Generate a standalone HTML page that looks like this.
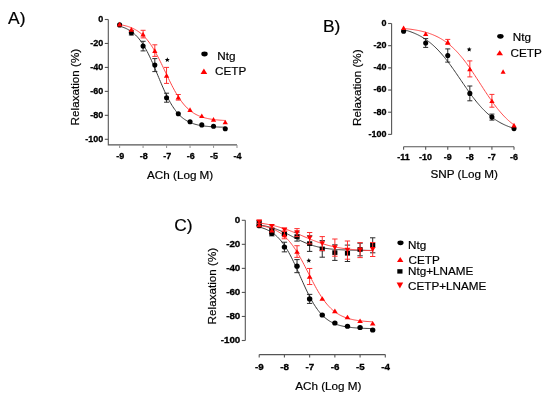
<!DOCTYPE html>
<html><head><meta charset="utf-8"><style>
html,body{margin:0;padding:0;background:#fff;width:550px;height:398px;overflow:hidden}
svg{display:block;will-change:transform}
text{font-family:"Liberation Sans", sans-serif}
</style></head><body>
<svg width="550" height="398" viewBox="0 0 550 398" font-family='"Liberation Sans", sans-serif' fill="#000">
<rect width="550" height="398" fill="#fff"/>
<path d="M108.30 19.50 V144.90 H237.00" stroke="#555555" stroke-width="1.1" fill="none"/>
<path d="M104.80 19.50 H108.30" stroke="#555555" stroke-width="1.1"/>
<text transform="translate(103.30 21.80) scale(1.000 1.100)" font-size="9.00" text-anchor="end" font-weight="bold" stroke="#000" stroke-width="0.3">0</text>
<path d="M104.80 43.46 H108.30" stroke="#555555" stroke-width="1.1"/>
<text transform="translate(103.30 45.76) scale(1.000 1.100)" font-size="9.00" text-anchor="end" font-weight="bold" stroke="#000" stroke-width="0.3">-20</text>
<path d="M104.80 67.42 H108.30" stroke="#555555" stroke-width="1.1"/>
<text transform="translate(103.30 69.72) scale(1.000 1.100)" font-size="9.00" text-anchor="end" font-weight="bold" stroke="#000" stroke-width="0.3">-40</text>
<path d="M104.80 91.38 H108.30" stroke="#555555" stroke-width="1.1"/>
<text transform="translate(103.30 93.68) scale(1.000 1.100)" font-size="9.00" text-anchor="end" font-weight="bold" stroke="#000" stroke-width="0.3">-60</text>
<path d="M104.80 115.34 H108.30" stroke="#555555" stroke-width="1.1"/>
<text transform="translate(103.30 117.64) scale(1.000 1.100)" font-size="9.00" text-anchor="end" font-weight="bold" stroke="#000" stroke-width="0.3">-80</text>
<path d="M104.80 139.30 H108.30" stroke="#555555" stroke-width="1.1"/>
<text transform="translate(103.30 141.60) scale(1.000 1.100)" font-size="9.00" text-anchor="end" font-weight="bold" stroke="#000" stroke-width="0.3">-100</text>
<path d="M119.60 144.90 V147.90" stroke="#9a9a9a" stroke-width="1.1"/>
<text transform="translate(120.20 158.90) scale(1.000 1.100)" font-size="9.00" text-anchor="middle" font-weight="bold" stroke="#000" stroke-width="0.3">-9</text>
<path d="M143.08 144.90 V147.90" stroke="#9a9a9a" stroke-width="1.1"/>
<text transform="translate(143.68 158.90) scale(1.000 1.100)" font-size="9.00" text-anchor="middle" font-weight="bold" stroke="#000" stroke-width="0.3">-8</text>
<path d="M166.56 144.90 V147.90" stroke="#9a9a9a" stroke-width="1.1"/>
<text transform="translate(167.16 158.90) scale(1.000 1.100)" font-size="9.00" text-anchor="middle" font-weight="bold" stroke="#000" stroke-width="0.3">-7</text>
<path d="M190.04 144.90 V147.90" stroke="#9a9a9a" stroke-width="1.1"/>
<text transform="translate(190.64 158.90) scale(1.000 1.100)" font-size="9.00" text-anchor="middle" font-weight="bold" stroke="#000" stroke-width="0.3">-6</text>
<path d="M213.52 144.90 V147.90" stroke="#9a9a9a" stroke-width="1.1"/>
<text transform="translate(214.12 158.90) scale(1.000 1.100)" font-size="9.00" text-anchor="middle" font-weight="bold" stroke="#000" stroke-width="0.3">-5</text>
<path d="M237.00 144.90 V147.90" stroke="#9a9a9a" stroke-width="1.1"/>
<text transform="translate(237.60 158.90) scale(1.000 1.100)" font-size="9.00" text-anchor="middle" font-weight="bold" stroke="#000" stroke-width="0.3">-4</text>
<text x="147.00" y="178.60" font-size="11.70" text-anchor="start" font-weight="normal" stroke="#000" stroke-width="0.20" >ACh (Log M)</text>
<text transform="translate(78.80 125.40) rotate(-90)" font-size="11.70" stroke="#000" stroke-width="0.20">Relaxation (%)</text>
<text x="8.10" y="23.90" font-size="17.40" text-anchor="start" font-weight="normal" stroke="#000" stroke-width="0.20" >A)</text>
<path d="M119.60 26.23 L120.49 26.47 L121.38 26.73 L122.26 27.02 L123.15 27.32 L124.04 27.65 L124.93 28.01 L125.82 28.39 L126.70 28.81 L127.59 29.25 L128.48 29.73 L129.37 30.25 L130.25 30.80 L131.14 31.40 L132.03 32.03 L132.92 32.71 L133.81 33.44 L134.69 34.22 L135.58 35.05 L136.47 35.94 L137.36 36.88 L138.25 37.89 L139.13 38.95 L140.02 40.08 L140.91 41.27 L141.80 42.52 L142.69 43.85 L143.57 45.24 L144.46 46.70 L145.35 48.23 L146.24 49.82 L147.12 51.48 L148.01 53.20 L148.90 54.99 L149.79 56.83 L150.68 58.73 L151.56 60.68 L152.45 62.67 L153.34 64.71 L154.23 66.78 L155.12 68.88 L156.00 71.00 L156.89 73.13 L157.78 75.27 L158.67 77.42 L159.56 79.55 L160.44 81.67 L161.33 83.77 L162.22 85.84 L163.11 87.88 L163.99 89.88 L164.88 91.83 L165.77 93.74 L166.66 95.58 L167.55 97.37 L168.43 99.10 L169.32 100.77 L170.21 102.37 L171.10 103.90 L171.99 105.37 L172.87 106.76 L173.76 108.09 L174.65 109.35 L175.54 110.55 L176.43 111.68 L177.31 112.75 L178.20 113.76 L179.09 114.71 L179.98 115.60 L180.87 116.43 L181.75 117.22 L182.64 117.95 L183.53 118.63 L184.42 119.27 L185.30 119.87 L186.19 120.43 L187.08 120.95 L187.97 121.43 L188.86 121.88 L189.74 122.29 L190.63 122.68 L191.52 123.04 L192.41 123.37 L193.30 123.68 L194.18 123.97 L195.07 124.23 L195.96 124.48 L196.85 124.70 L197.74 124.91 L198.62 125.11 L199.51 125.29 L200.40 125.45 L201.29 125.60 L202.17 125.74 L203.06 125.88 L203.95 126.00 L204.84 126.11 L205.73 126.21 L206.61 126.30 L207.50 126.39 L208.39 126.47 L209.28 126.55 L210.17 126.61 L211.05 126.68 L211.94 126.74 L212.83 126.79 L213.72 126.84 L214.61 126.89 L215.49 126.93 L216.38 126.97 L217.27 127.00 L218.16 127.03 L219.04 127.07 L219.93 127.09 L220.82 127.12 L221.71 127.14 L222.60 127.16 L223.48 127.18 L224.37 127.20 L225.26 127.22" fill="none" stroke="#383838" stroke-width="1.00" stroke-linejoin="round"/>
<path d="M119.60 24.58 L120.49 24.73 L121.38 24.89 L122.26 25.06 L123.15 25.25 L124.04 25.44 L124.93 25.66 L125.82 25.88 L126.70 26.13 L127.59 26.39 L128.48 26.68 L129.37 26.98 L130.25 27.30 L131.14 27.65 L132.03 28.03 L132.92 28.42 L133.81 28.85 L134.69 29.31 L135.58 29.80 L136.47 30.32 L137.36 30.87 L138.25 31.46 L139.13 32.09 L140.02 32.76 L140.91 33.47 L141.80 34.23 L142.69 35.03 L143.57 35.87 L144.46 36.77 L145.35 37.71 L146.24 38.71 L147.12 39.76 L148.01 40.86 L148.90 42.02 L149.79 43.23 L150.68 44.50 L151.56 45.82 L152.45 47.20 L153.34 48.63 L154.23 50.11 L155.12 51.64 L156.00 53.23 L156.89 54.85 L157.78 56.52 L158.67 58.24 L159.56 59.98 L160.44 61.76 L161.33 63.57 L162.22 65.41 L163.11 67.26 L163.99 69.12 L164.88 70.99 L165.77 72.87 L166.66 74.74 L167.55 76.60 L168.43 78.45 L169.32 80.28 L170.21 82.09 L171.10 83.86 L171.99 85.61 L172.87 87.32 L173.76 88.99 L174.65 90.61 L175.54 92.19 L176.43 93.72 L177.31 95.20 L178.20 96.62 L179.09 97.99 L179.98 99.31 L180.87 100.58 L181.75 101.78 L182.64 102.94 L183.53 104.04 L184.42 105.08 L185.30 106.07 L186.19 107.02 L187.08 107.91 L187.97 108.75 L188.86 109.55 L189.74 110.30 L190.63 111.01 L191.52 111.67 L192.41 112.30 L193.30 112.89 L194.18 113.44 L195.07 113.96 L195.96 114.44 L196.85 114.90 L197.74 115.32 L198.62 115.72 L199.51 116.09 L200.40 116.44 L201.29 116.76 L202.17 117.06 L203.06 117.34 L203.95 117.61 L204.84 117.85 L205.73 118.08 L206.61 118.29 L207.50 118.49 L208.39 118.67 L209.28 118.84 L210.17 119.00 L211.05 119.15 L211.94 119.28 L212.83 119.41 L213.72 119.53 L214.61 119.64 L215.49 119.74 L216.38 119.84 L217.27 119.92 L218.16 120.00 L219.04 120.08 L219.93 120.15 L220.82 120.22 L221.71 120.28 L222.60 120.33 L223.48 120.38 L224.37 120.43 L225.26 120.48" fill="none" stroke="#ff4545" stroke-width="1.00" stroke-linejoin="round"/>
<path d="M131.34 30.40 V35.00 M128.84 30.40 H133.84 M128.84 35.00 H133.84" stroke="#2a2a2a" stroke-width="1.00" fill="none"/>
<path d="M143.08 41.30 V50.90 M140.58 41.30 H145.58 M140.58 50.90 H145.58" stroke="#2a2a2a" stroke-width="1.00" fill="none"/>
<path d="M154.82 58.60 V71.60 M152.32 58.60 H157.32 M152.32 71.60 H157.32" stroke="#2a2a2a" stroke-width="1.00" fill="none"/>
<path d="M166.56 93.20 V102.20 M164.06 93.20 H169.06 M164.06 102.20 H169.06" stroke="#2a2a2a" stroke-width="1.00" fill="none"/>
<ellipse cx="119.60" cy="24.90" rx="2.55" ry="2.55" fill="#000000"/>
<ellipse cx="131.34" cy="32.70" rx="2.55" ry="2.55" fill="#000000"/>
<ellipse cx="143.08" cy="46.10" rx="2.55" ry="2.55" fill="#000000"/>
<ellipse cx="154.82" cy="65.10" rx="2.55" ry="2.55" fill="#000000"/>
<ellipse cx="166.56" cy="97.70" rx="2.55" ry="2.55" fill="#000000"/>
<ellipse cx="178.30" cy="113.80" rx="2.55" ry="2.55" fill="#000000"/>
<ellipse cx="190.04" cy="121.70" rx="2.55" ry="2.55" fill="#000000"/>
<ellipse cx="201.78" cy="124.90" rx="2.55" ry="2.55" fill="#000000"/>
<ellipse cx="213.52" cy="126.20" rx="2.55" ry="2.55" fill="#000000"/>
<ellipse cx="225.26" cy="128.70" rx="2.55" ry="2.55" fill="#000000"/>
<path d="M143.08 30.30 V37.90 M140.58 30.30 H145.58 M140.58 37.90 H145.58" stroke="#ff3030" stroke-width="1.00" fill="none"/>
<path d="M154.82 44.80 V56.40 M152.32 44.80 H157.32 M152.32 56.40 H157.32" stroke="#ff3030" stroke-width="1.00" fill="none"/>
<path d="M166.56 67.40 V83.40 M164.06 67.40 H169.06 M164.06 83.40 H169.06" stroke="#ff3030" stroke-width="1.00" fill="none"/>
<path d="M178.30 94.50 V100.10 M175.80 94.50 H180.80 M175.80 100.10 H180.80" stroke="#ff3030" stroke-width="1.00" fill="none"/>
<polygon points="119.60,21.80 122.25,26.40 116.95,26.40" fill="#ff0000"/>
<polygon points="131.34,27.10 133.99,31.70 128.69,31.70" fill="#ff0000"/>
<polygon points="143.08,31.80 145.73,36.40 140.43,36.40" fill="#ff0000"/>
<polygon points="154.82,48.30 157.47,52.90 152.17,52.90" fill="#ff0000"/>
<polygon points="166.56,73.10 169.21,77.70 163.91,77.70" fill="#ff0000"/>
<polygon points="178.30,95.00 180.95,99.60 175.65,99.60" fill="#ff0000"/>
<polygon points="190.04,107.30 192.69,111.90 187.39,111.90" fill="#ff0000"/>
<polygon points="201.78,113.40 204.43,118.00 199.13,118.00" fill="#ff0000"/>
<polygon points="213.52,117.10 216.17,121.70 210.87,121.70" fill="#ff0000"/>
<polygon points="225.26,119.70 227.91,124.30 222.61,124.30" fill="#ff0000"/>
<polygon points="167.30,57.30 167.99,58.95 169.77,59.10 168.41,60.26 168.83,62.00 167.30,61.07 165.77,62.00 166.19,60.26 164.83,59.10 166.61,58.95" fill="#000000"/>
<ellipse cx="204.50" cy="54.00" rx="3.20" ry="2.40" fill="#000000"/>
<text x="217.20" y="59.70" font-size="11.70" text-anchor="start" font-weight="normal" stroke="#000" stroke-width="0.20" >Ntg</text>
<polygon points="203.90,68.60 207.20,74.00 200.60,74.00" fill="#ff0000"/>
<text x="215.00" y="74.70" font-size="11.70" text-anchor="start" font-weight="normal" stroke="#000" stroke-width="0.20" >CETP</text>
<path d="M391.60 23.50 V134.40" stroke="#555555" stroke-width="1.1" fill="none"/>
<path d="M403.60 146.70 H514.00" stroke="#555555" stroke-width="1.1" fill="none"/>
<path d="M388.10 23.50 H391.60" stroke="#555555" stroke-width="1.1"/>
<text transform="translate(386.60 25.80) scale(1.000 1.100)" font-size="9.00" text-anchor="end" font-weight="bold" stroke="#000" stroke-width="0.3">0</text>
<path d="M388.10 45.68 H391.60" stroke="#555555" stroke-width="1.1"/>
<text transform="translate(386.60 47.98) scale(1.000 1.100)" font-size="9.00" text-anchor="end" font-weight="bold" stroke="#000" stroke-width="0.3">-20</text>
<path d="M388.10 67.86 H391.60" stroke="#555555" stroke-width="1.1"/>
<text transform="translate(386.60 70.16) scale(1.000 1.100)" font-size="9.00" text-anchor="end" font-weight="bold" stroke="#000" stroke-width="0.3">-40</text>
<path d="M388.10 90.04 H391.60" stroke="#555555" stroke-width="1.1"/>
<text transform="translate(386.60 92.34) scale(1.000 1.100)" font-size="9.00" text-anchor="end" font-weight="bold" stroke="#000" stroke-width="0.3">-60</text>
<path d="M388.10 112.22 H391.60" stroke="#555555" stroke-width="1.1"/>
<text transform="translate(386.60 114.52) scale(1.000 1.100)" font-size="9.00" text-anchor="end" font-weight="bold" stroke="#000" stroke-width="0.3">-80</text>
<path d="M388.10 134.40 H391.60" stroke="#555555" stroke-width="1.1"/>
<text transform="translate(386.60 136.70) scale(1.000 1.100)" font-size="9.00" text-anchor="end" font-weight="bold" stroke="#000" stroke-width="0.3">-100</text>
<path d="M403.60 146.70 V149.70" stroke="#555555" stroke-width="1.1"/>
<text transform="translate(403.50 160.20) scale(1.000 1.100)" font-size="9.00" text-anchor="middle" font-weight="bold" stroke="#000" stroke-width="0.3">-11</text>
<path d="M425.68 146.70 V149.70" stroke="#555555" stroke-width="1.1"/>
<text transform="translate(425.58 160.20) scale(1.000 1.100)" font-size="9.00" text-anchor="middle" font-weight="bold" stroke="#000" stroke-width="0.3">-10</text>
<path d="M447.76 146.70 V149.70" stroke="#555555" stroke-width="1.1"/>
<text transform="translate(447.66 160.20) scale(1.000 1.100)" font-size="9.00" text-anchor="middle" font-weight="bold" stroke="#000" stroke-width="0.3">-9</text>
<path d="M469.84 146.70 V149.70" stroke="#555555" stroke-width="1.1"/>
<text transform="translate(469.74 160.20) scale(1.000 1.100)" font-size="9.00" text-anchor="middle" font-weight="bold" stroke="#000" stroke-width="0.3">-8</text>
<path d="M491.92 146.70 V149.70" stroke="#555555" stroke-width="1.1"/>
<text transform="translate(491.82 160.20) scale(1.000 1.100)" font-size="9.00" text-anchor="middle" font-weight="bold" stroke="#000" stroke-width="0.3">-7</text>
<path d="M514.00 146.70 V149.70" stroke="#555555" stroke-width="1.1"/>
<text transform="translate(513.90 160.20) scale(1.000 1.100)" font-size="9.00" text-anchor="middle" font-weight="bold" stroke="#000" stroke-width="0.3">-6</text>
<text x="430.50" y="177.80" font-size="11.70" text-anchor="start" font-weight="normal" stroke="#000" stroke-width="0.20" >SNP (Log M)</text>
<text transform="translate(361.30 126.00) rotate(-90)" font-size="11.70" stroke="#000" stroke-width="0.20">Relaxation (%)</text>
<text x="323.00" y="31.50" font-size="17.40" text-anchor="start" font-weight="normal" stroke="#000" stroke-width="0.20" >B)</text>
<path d="M403.60 29.66 L404.53 29.90 L405.46 30.15 L406.38 30.42 L407.31 30.69 L408.24 30.98 L409.17 31.28 L410.09 31.59 L411.02 31.92 L411.95 32.27 L412.88 32.62 L413.81 33.00 L414.73 33.39 L415.66 33.80 L416.59 34.22 L417.52 34.66 L418.44 35.12 L419.37 35.60 L420.30 36.10 L421.23 36.62 L422.15 37.16 L423.08 37.72 L424.01 38.30 L424.94 38.90 L425.87 39.53 L426.79 40.18 L427.72 40.85 L428.65 41.55 L429.58 42.27 L430.50 43.02 L431.43 43.79 L432.36 44.59 L433.29 45.41 L434.22 46.26 L435.14 47.14 L436.07 48.04 L437.00 48.97 L437.93 49.92 L438.85 50.90 L439.78 51.91 L440.71 52.94 L441.64 54.00 L442.56 55.08 L443.49 56.18 L444.42 57.31 L445.35 58.46 L446.28 59.64 L447.20 60.83 L448.13 62.05 L449.06 63.28 L449.99 64.54 L450.91 65.81 L451.84 67.10 L452.77 68.40 L453.70 69.71 L454.63 71.04 L455.55 72.37 L456.48 73.72 L457.41 75.07 L458.34 76.43 L459.26 77.79 L460.19 79.15 L461.12 80.52 L462.05 81.88 L462.97 83.24 L463.90 84.59 L464.83 85.94 L465.76 87.28 L466.69 88.61 L467.61 89.93 L468.54 91.24 L469.47 92.53 L470.40 93.81 L471.32 95.07 L472.25 96.31 L473.18 97.54 L474.11 98.74 L475.04 99.92 L475.96 101.09 L476.89 102.22 L477.82 103.34 L478.75 104.43 L479.67 105.50 L480.60 106.54 L481.53 107.56 L482.46 108.55 L483.38 109.51 L484.31 110.45 L485.24 111.37 L486.17 112.25 L487.10 113.11 L488.02 113.95 L488.95 114.76 L489.88 115.54 L490.81 116.30 L491.73 117.03 L492.66 117.74 L493.59 118.42 L494.52 119.08 L495.45 119.72 L496.37 120.33 L497.30 120.92 L498.23 121.49 L499.16 122.04 L500.08 122.57 L501.01 123.08 L501.94 123.56 L502.87 124.03 L503.79 124.48 L504.72 124.91 L505.65 125.33 L506.58 125.72 L507.51 126.10 L508.43 126.47 L509.36 126.82 L510.29 127.15 L511.22 127.47 L512.14 127.78 L513.07 128.07 L514.00 128.36" fill="none" stroke="#383838" stroke-width="1.00" stroke-linejoin="round"/>
<path d="M403.60 28.45 L404.53 28.54 L405.46 28.63 L406.38 28.73 L407.31 28.83 L408.24 28.94 L409.17 29.05 L410.09 29.17 L411.02 29.29 L411.95 29.42 L412.88 29.56 L413.81 29.70 L414.73 29.85 L415.66 30.01 L416.59 30.17 L417.52 30.35 L418.44 30.53 L419.37 30.72 L420.30 30.92 L421.23 31.13 L422.15 31.35 L423.08 31.58 L424.01 31.82 L424.94 32.07 L425.87 32.33 L426.79 32.61 L427.72 32.90 L428.65 33.20 L429.58 33.52 L430.50 33.85 L431.43 34.19 L432.36 34.55 L433.29 34.93 L434.22 35.32 L435.14 35.73 L436.07 36.16 L437.00 36.61 L437.93 37.07 L438.85 37.56 L439.78 38.07 L440.71 38.59 L441.64 39.14 L442.56 39.71 L443.49 40.31 L444.42 40.92 L445.35 41.56 L446.28 42.23 L447.20 42.92 L448.13 43.63 L449.06 44.37 L449.99 45.14 L450.91 45.93 L451.84 46.75 L452.77 47.60 L453.70 48.48 L454.63 49.38 L455.55 50.31 L456.48 51.27 L457.41 52.26 L458.34 53.28 L459.26 54.32 L460.19 55.39 L461.12 56.49 L462.05 57.61 L462.97 58.76 L463.90 59.94 L464.83 61.14 L465.76 62.37 L466.69 63.62 L467.61 64.89 L468.54 66.18 L469.47 67.49 L470.40 68.82 L471.32 70.17 L472.25 71.54 L473.18 72.92 L474.11 74.31 L475.04 75.72 L475.96 77.13 L476.89 78.56 L477.82 79.99 L478.75 81.42 L479.67 82.86 L480.60 84.30 L481.53 85.73 L482.46 87.17 L483.38 88.60 L484.31 90.02 L485.24 91.44 L486.17 92.84 L487.10 94.24 L488.02 95.62 L488.95 96.98 L489.88 98.33 L490.81 99.67 L491.73 100.98 L492.66 102.28 L493.59 103.55 L494.52 104.80 L495.45 106.02 L496.37 107.23 L497.30 108.41 L498.23 109.56 L499.16 110.68 L500.08 111.78 L501.01 112.85 L501.94 113.90 L502.87 114.91 L503.79 115.90 L504.72 116.86 L505.65 117.80 L506.58 118.70 L507.51 119.58 L508.43 120.43 L509.36 121.25 L510.29 122.05 L511.22 122.81 L512.14 123.56 L513.07 124.27 L514.00 124.96" fill="none" stroke="#ff4545" stroke-width="1.00" stroke-linejoin="round"/>
<path d="M425.68 38.60 V47.40 M423.18 38.60 H428.18 M423.18 47.40 H428.18" stroke="#2a2a2a" stroke-width="1.00" fill="none"/>
<path d="M447.76 48.90 V62.10 M445.26 48.90 H450.26 M445.26 62.10 H450.26" stroke="#2a2a2a" stroke-width="1.00" fill="none"/>
<path d="M469.84 86.00 V100.80 M467.34 86.00 H472.34 M467.34 100.80 H472.34" stroke="#2a2a2a" stroke-width="1.00" fill="none"/>
<path d="M491.92 114.10 V120.10 M489.42 114.10 H494.42 M489.42 120.10 H494.42" stroke="#2a2a2a" stroke-width="1.00" fill="none"/>
<ellipse cx="403.60" cy="31.30" rx="2.55" ry="2.55" fill="#000000"/>
<ellipse cx="425.68" cy="43.00" rx="2.55" ry="2.55" fill="#000000"/>
<ellipse cx="447.76" cy="55.50" rx="2.55" ry="2.55" fill="#000000"/>
<ellipse cx="469.84" cy="93.40" rx="2.55" ry="2.55" fill="#000000"/>
<ellipse cx="491.92" cy="117.10" rx="2.55" ry="2.55" fill="#000000"/>
<ellipse cx="514.00" cy="128.60" rx="2.55" ry="2.55" fill="#000000"/>
<path d="M447.76 39.40 V44.40 M445.26 39.40 H450.26 M445.26 44.40 H450.26" stroke="#ff3030" stroke-width="1.00" fill="none"/>
<path d="M469.84 60.90 V76.90 M467.34 60.90 H472.34 M467.34 76.90 H472.34" stroke="#ff3030" stroke-width="1.00" fill="none"/>
<path d="M491.92 94.40 V107.20 M489.42 94.40 H494.42 M489.42 107.20 H494.42" stroke="#ff3030" stroke-width="1.00" fill="none"/>
<polygon points="403.60,25.50 406.25,30.10 400.95,30.10" fill="#ff0000"/>
<polygon points="425.68,31.50 428.33,36.10 423.03,36.10" fill="#ff0000"/>
<polygon points="447.76,39.60 450.41,44.20 445.11,44.20" fill="#ff0000"/>
<polygon points="469.84,66.60 472.49,71.20 467.19,71.20" fill="#ff0000"/>
<polygon points="491.92,98.50 494.57,103.10 489.27,103.10" fill="#ff0000"/>
<polygon points="514.00,122.80 516.65,127.40 511.35,127.40" fill="#ff0000"/>
<polygon points="469.20,46.90 469.89,48.55 471.67,48.70 470.31,49.86 470.73,51.60 469.20,50.67 467.67,51.60 468.09,49.86 466.73,48.70 468.51,48.55" fill="#000000"/>
<ellipse cx="500.40" cy="36.30" rx="3.20" ry="2.40" fill="#000000"/>
<text x="512.80" y="41.30" font-size="11.70" text-anchor="start" font-weight="normal" stroke="#000" stroke-width="0.20" >Ntg</text>
<polygon points="499.70,50.30 503.00,55.30 496.40,55.30" fill="#ff0000"/>
<text x="510.50" y="56.80" font-size="11.70" text-anchor="start" font-weight="normal" stroke="#000" stroke-width="0.20" >CETP</text>
<polygon points="503.10,69.15 505.60,73.65 500.60,73.65" fill="#ff0000"/>
<path d="M245.30 220.30 V340.50" stroke="#555555" stroke-width="1.1" fill="none"/>
<path d="M259.20 354.60 H385.30" stroke="#555555" stroke-width="1.1" fill="none"/>
<path d="M241.80 220.30 H245.30" stroke="#555555" stroke-width="1.1"/>
<text transform="translate(240.30 222.60) scale(1.090 1.100)" font-size="9.00" text-anchor="end" font-weight="bold" stroke="#000" stroke-width="0.3">0</text>
<path d="M241.80 244.34 H245.30" stroke="#555555" stroke-width="1.1"/>
<text transform="translate(240.30 246.64) scale(1.090 1.100)" font-size="9.00" text-anchor="end" font-weight="bold" stroke="#000" stroke-width="0.3">-20</text>
<path d="M241.80 268.38 H245.30" stroke="#555555" stroke-width="1.1"/>
<text transform="translate(240.30 270.68) scale(1.090 1.100)" font-size="9.00" text-anchor="end" font-weight="bold" stroke="#000" stroke-width="0.3">-40</text>
<path d="M241.80 292.42 H245.30" stroke="#555555" stroke-width="1.1"/>
<text transform="translate(240.30 294.72) scale(1.090 1.100)" font-size="9.00" text-anchor="end" font-weight="bold" stroke="#000" stroke-width="0.3">-60</text>
<path d="M241.80 316.46 H245.30" stroke="#555555" stroke-width="1.1"/>
<text transform="translate(240.30 318.76) scale(1.090 1.100)" font-size="9.00" text-anchor="end" font-weight="bold" stroke="#000" stroke-width="0.3">-80</text>
<path d="M241.80 340.50 H245.30" stroke="#555555" stroke-width="1.1"/>
<text transform="translate(240.30 342.80) scale(1.090 1.100)" font-size="9.00" text-anchor="end" font-weight="bold" stroke="#000" stroke-width="0.3">-100</text>
<path d="M259.20 354.60 V357.60" stroke="#555555" stroke-width="1.1"/>
<text transform="translate(259.40 369.50) scale(1.090 1.100)" font-size="9.00" text-anchor="middle" font-weight="bold" stroke="#000" stroke-width="0.3">-9</text>
<path d="M284.42 354.60 V357.60" stroke="#555555" stroke-width="1.1"/>
<text transform="translate(284.62 369.50) scale(1.090 1.100)" font-size="9.00" text-anchor="middle" font-weight="bold" stroke="#000" stroke-width="0.3">-8</text>
<path d="M309.64 354.60 V357.60" stroke="#555555" stroke-width="1.1"/>
<text transform="translate(309.84 369.50) scale(1.090 1.100)" font-size="9.00" text-anchor="middle" font-weight="bold" stroke="#000" stroke-width="0.3">-7</text>
<path d="M334.86 354.60 V357.60" stroke="#555555" stroke-width="1.1"/>
<text transform="translate(335.06 369.50) scale(1.090 1.100)" font-size="9.00" text-anchor="middle" font-weight="bold" stroke="#000" stroke-width="0.3">-6</text>
<path d="M360.08 354.60 V357.60" stroke="#555555" stroke-width="1.1"/>
<text transform="translate(360.28 369.50) scale(1.090 1.100)" font-size="9.00" text-anchor="middle" font-weight="bold" stroke="#000" stroke-width="0.3">-5</text>
<path d="M385.30 354.60 V357.60" stroke="#555555" stroke-width="1.1"/>
<text transform="translate(385.50 369.50) scale(1.090 1.100)" font-size="9.00" text-anchor="middle" font-weight="bold" stroke="#000" stroke-width="0.3">-4</text>
<text x="295.20" y="389.60" font-size="11.70" text-anchor="start" font-weight="normal" stroke="#000" stroke-width="0.20" >ACh (Log M)</text>
<text transform="translate(215.90 324.40) rotate(-90)" font-size="11.70" stroke="#000" stroke-width="0.20">Relaxation (%)</text>
<text x="174.30" y="230.80" font-size="17.40" text-anchor="start" font-weight="normal" stroke="#000" stroke-width="0.20" >C)</text>
<path d="M259.20 227.06 L260.15 227.30 L261.11 227.57 L262.06 227.85 L263.01 228.16 L263.97 228.49 L264.92 228.85 L265.88 229.24 L266.83 229.66 L267.78 230.10 L268.74 230.59 L269.69 231.10 L270.64 231.66 L271.60 232.26 L272.55 232.90 L273.51 233.58 L274.46 234.31 L275.41 235.10 L276.37 235.93 L277.32 236.82 L278.27 237.77 L279.23 238.78 L280.18 239.85 L281.14 240.98 L282.09 242.18 L283.04 243.44 L284.00 244.77 L284.95 246.17 L285.90 247.64 L286.86 249.17 L287.81 250.77 L288.76 252.44 L289.72 254.17 L290.67 255.97 L291.63 257.82 L292.58 259.73 L293.53 261.69 L294.49 263.69 L295.44 265.74 L296.39 267.82 L297.35 269.93 L298.30 272.06 L299.26 274.20 L300.21 276.35 L301.16 278.51 L302.12 280.65 L303.07 282.78 L304.02 284.89 L304.98 286.98 L305.93 289.02 L306.88 291.03 L307.84 293.00 L308.79 294.91 L309.75 296.77 L310.70 298.56 L311.65 300.30 L312.61 301.98 L313.56 303.58 L314.51 305.12 L315.47 306.60 L316.42 308.00 L317.38 309.34 L318.33 310.61 L319.28 311.81 L320.24 312.95 L321.19 314.02 L322.14 315.03 L323.10 315.98 L324.05 316.88 L325.01 317.72 L325.96 318.51 L326.91 319.24 L327.87 319.93 L328.82 320.58 L329.77 321.18 L330.73 321.73 L331.68 322.26 L332.63 322.74 L333.59 323.19 L334.54 323.61 L335.50 324.00 L336.45 324.36 L337.40 324.69 L338.36 325.00 L339.31 325.29 L340.26 325.56 L341.22 325.80 L342.17 326.03 L343.13 326.24 L344.08 326.44 L345.03 326.62 L345.99 326.78 L346.94 326.94 L347.89 327.08 L348.85 327.21 L349.80 327.33 L350.75 327.44 L351.71 327.54 L352.66 327.64 L353.62 327.73 L354.57 327.81 L355.52 327.88 L356.48 327.95 L357.43 328.02 L358.38 328.07 L359.34 328.13 L360.29 328.18 L361.25 328.22 L362.20 328.27 L363.15 328.31 L364.11 328.34 L365.06 328.37 L366.01 328.40 L366.97 328.43 L367.92 328.46 L368.88 328.48 L369.83 328.50 L370.78 328.52 L371.74 328.54 L372.69 328.56" fill="none" stroke="#383838" stroke-width="1.00" stroke-linejoin="round"/>
<path d="M259.20 225.01 L260.15 225.16 L261.11 225.30 L262.06 225.46 L263.01 225.63 L263.97 225.81 L264.92 225.99 L265.88 226.19 L266.83 226.40 L267.78 226.62 L268.74 226.86 L269.69 227.10 L270.64 227.36 L271.60 227.63 L272.55 227.92 L273.51 228.21 L274.46 228.53 L275.41 228.85 L276.37 229.19 L277.32 229.54 L278.27 229.91 L279.23 230.28 L280.18 230.68 L281.14 231.08 L282.09 231.49 L283.04 231.92 L284.00 232.36 L284.95 232.81 L285.90 233.27 L286.86 233.73 L287.81 234.21 L288.76 234.68 L289.72 235.17 L290.67 235.66 L291.63 236.15 L292.58 236.64 L293.53 237.13 L294.49 237.63 L295.44 238.12 L296.39 238.60 L297.35 239.08 L298.30 239.56 L299.26 240.03 L300.21 240.49 L301.16 240.94 L302.12 241.38 L303.07 241.81 L304.02 242.23 L304.98 242.64 L305.93 243.04 L306.88 243.42 L307.84 243.79 L308.79 244.15 L309.75 244.49 L310.70 244.82 L311.65 245.14 L312.61 245.44 L313.56 245.73 L314.51 246.00 L315.47 246.27 L316.42 246.52 L317.38 246.75 L318.33 246.98 L319.28 247.19 L320.24 247.39 L321.19 247.59 L322.14 247.77 L323.10 247.94 L324.05 248.10 L325.01 248.25 L325.96 248.39 L326.91 248.53 L327.87 248.66 L328.82 248.78 L329.77 248.89 L330.73 248.99 L331.68 249.09 L332.63 249.18 L333.59 249.27 L334.54 249.35 L335.50 249.43 L336.45 249.50 L337.40 249.56 L338.36 249.63 L339.31 249.68 L340.26 249.74 L341.22 249.79 L342.17 249.84 L343.13 249.88 L344.08 249.92 L345.03 249.96 L345.99 250.00 L346.94 250.03 L347.89 250.06 L348.85 250.09 L349.80 250.12 L350.75 250.14 L351.71 250.17 L352.66 250.19 L353.62 250.21 L354.57 250.23 L355.52 250.25 L356.48 250.27 L357.43 250.28 L358.38 250.30 L359.34 250.31 L360.29 250.32 L361.25 250.33 L362.20 250.34 L363.15 250.35 L364.11 250.36 L365.06 250.37 L366.01 250.38 L366.97 250.39 L367.92 250.40 L368.88 250.40 L369.83 250.41 L370.78 250.41 L371.74 250.42 L372.69 250.43" fill="none" stroke="#383838" stroke-width="1.00" stroke-linejoin="round"/>
<path d="M259.20 225.41 L260.15 225.56 L261.11 225.72 L262.06 225.89 L263.01 226.07 L263.97 226.27 L264.92 226.49 L265.88 226.72 L266.83 226.96 L267.78 227.23 L268.74 227.51 L269.69 227.82 L270.64 228.14 L271.60 228.49 L272.55 228.87 L273.51 229.27 L274.46 229.70 L275.41 230.16 L276.37 230.65 L277.32 231.17 L278.27 231.73 L279.23 232.32 L280.18 232.95 L281.14 233.63 L282.09 234.34 L283.04 235.10 L284.00 235.90 L284.95 236.76 L285.90 237.66 L286.86 238.61 L287.81 239.61 L288.76 240.66 L289.72 241.77 L290.67 242.93 L291.63 244.15 L292.58 245.43 L293.53 246.75 L294.49 248.14 L295.44 249.57 L296.39 251.06 L297.35 252.60 L298.30 254.19 L299.26 255.83 L300.21 257.51 L301.16 259.23 L302.12 260.99 L303.07 262.78 L304.02 264.59 L304.98 266.44 L305.93 268.30 L306.88 270.17 L307.84 272.05 L308.79 273.93 L309.75 275.81 L310.70 277.69 L311.65 279.54 L312.61 281.38 L313.56 283.20 L314.51 284.99 L315.47 286.74 L316.42 288.46 L317.38 290.13 L318.33 291.77 L319.28 293.35 L320.24 294.89 L321.19 296.38 L322.14 297.81 L323.10 299.19 L324.05 300.51 L325.01 301.78 L325.96 303.00 L326.91 304.16 L327.87 305.26 L328.82 306.31 L329.77 307.31 L330.73 308.26 L331.68 309.15 L332.63 310.00 L333.59 310.80 L334.54 311.56 L335.50 312.27 L336.45 312.94 L337.40 313.57 L338.36 314.16 L339.31 314.71 L340.26 315.23 L341.22 315.72 L342.17 316.18 L343.13 316.60 L344.08 317.00 L345.03 317.38 L345.99 317.72 L346.94 318.05 L347.89 318.35 L348.85 318.64 L349.80 318.90 L350.75 319.14 L351.71 319.37 L352.66 319.59 L353.62 319.78 L354.57 319.97 L355.52 320.14 L356.48 320.30 L357.43 320.45 L358.38 320.58 L359.34 320.71 L360.29 320.83 L361.25 320.94 L362.20 321.04 L363.15 321.14 L364.11 321.23 L365.06 321.31 L366.01 321.38 L366.97 321.46 L367.92 321.52 L368.88 321.58 L369.83 321.64 L370.78 321.69 L371.74 321.74 L372.69 321.78" fill="none" stroke="#ff4545" stroke-width="1.00" stroke-linejoin="round"/>
<path d="M259.20 223.01 L260.15 223.13 L261.11 223.26 L262.06 223.40 L263.01 223.55 L263.97 223.70 L264.92 223.86 L265.88 224.02 L266.83 224.19 L267.78 224.37 L268.74 224.55 L269.69 224.74 L270.64 224.94 L271.60 225.15 L272.55 225.37 L273.51 225.59 L274.46 225.82 L275.41 226.06 L276.37 226.31 L277.32 226.56 L278.27 226.83 L279.23 227.10 L280.18 227.38 L281.14 227.67 L282.09 227.97 L283.04 228.27 L284.00 228.59 L284.95 228.91 L285.90 229.24 L286.86 229.58 L287.81 229.92 L288.76 230.27 L289.72 230.63 L290.67 231.00 L291.63 231.37 L292.58 231.75 L293.53 232.13 L294.49 232.52 L295.44 232.91 L296.39 233.30 L297.35 233.70 L298.30 234.11 L299.26 234.51 L300.21 234.92 L301.16 235.33 L302.12 235.74 L303.07 236.15 L304.02 236.55 L304.98 236.96 L305.93 237.37 L306.88 237.77 L307.84 238.17 L308.79 238.57 L309.75 238.97 L310.70 239.36 L311.65 239.74 L312.61 240.13 L313.56 240.50 L314.51 240.87 L315.47 241.23 L316.42 241.59 L317.38 241.94 L318.33 242.28 L319.28 242.62 L320.24 242.94 L321.19 243.26 L322.14 243.57 L323.10 243.88 L324.05 244.17 L325.01 244.46 L325.96 244.74 L326.91 245.01 L327.87 245.27 L328.82 245.52 L329.77 245.76 L330.73 246.00 L331.68 246.23 L332.63 246.45 L333.59 246.66 L334.54 246.87 L335.50 247.06 L336.45 247.25 L337.40 247.44 L338.36 247.61 L339.31 247.78 L340.26 247.94 L341.22 248.10 L342.17 248.24 L343.13 248.39 L344.08 248.52 L345.03 248.65 L345.99 248.78 L346.94 248.90 L347.89 249.01 L348.85 249.12 L349.80 249.23 L350.75 249.33 L351.71 249.42 L352.66 249.51 L353.62 249.60 L354.57 249.68 L355.52 249.76 L356.48 249.83 L357.43 249.91 L358.38 249.97 L359.34 250.04 L360.29 250.10 L361.25 250.16 L362.20 250.22 L363.15 250.27 L364.11 250.32 L365.06 250.37 L366.01 250.41 L366.97 250.46 L367.92 250.50 L368.88 250.54 L369.83 250.58 L370.78 250.61 L371.74 250.65 L372.69 250.68" fill="none" stroke="#ff4545" stroke-width="1.00" stroke-linejoin="round"/>
<path d="M271.81 231.25 V235.88 M269.13 231.25 H274.49 M269.13 235.88 H274.49" stroke="#2a2a2a" stroke-width="1.00" fill="none"/>
<path d="M284.42 242.21 V251.86 M281.74 242.21 H287.09 M281.74 251.86 H287.09" stroke="#2a2a2a" stroke-width="1.00" fill="none"/>
<path d="M297.03 259.60 V272.66 M294.35 259.60 H299.70 M294.35 272.66 H299.70" stroke="#2a2a2a" stroke-width="1.00" fill="none"/>
<path d="M309.64 294.37 V303.41 M306.96 294.37 H312.31 M306.96 303.41 H312.31" stroke="#2a2a2a" stroke-width="1.00" fill="none"/>
<ellipse cx="259.20" cy="225.73" rx="2.73" ry="2.55" fill="#000000"/>
<ellipse cx="271.81" cy="233.57" rx="2.73" ry="2.55" fill="#000000"/>
<ellipse cx="284.42" cy="247.03" rx="2.73" ry="2.55" fill="#000000"/>
<ellipse cx="297.03" cy="266.13" rx="2.73" ry="2.55" fill="#000000"/>
<ellipse cx="309.64" cy="298.89" rx="2.73" ry="2.55" fill="#000000"/>
<ellipse cx="322.25" cy="315.07" rx="2.73" ry="2.55" fill="#000000"/>
<ellipse cx="334.86" cy="323.01" rx="2.73" ry="2.55" fill="#000000"/>
<ellipse cx="347.47" cy="326.23" rx="2.73" ry="2.55" fill="#000000"/>
<ellipse cx="360.08" cy="327.54" rx="2.73" ry="2.55" fill="#000000"/>
<ellipse cx="372.69" cy="330.05" rx="2.73" ry="2.55" fill="#000000"/>
<path d="M259.20 220.50 V225.50 M256.52 220.50 H261.88 M256.52 225.50 H261.88" stroke="#2a2a2a" stroke-width="1.00" fill="none"/>
<path d="M271.81 228.20 V232.20 M269.13 228.20 H274.49 M269.13 232.20 H274.49" stroke="#2a2a2a" stroke-width="1.00" fill="none"/>
<path d="M284.42 231.60 V235.60 M281.74 231.60 H287.09 M281.74 235.60 H287.09" stroke="#2a2a2a" stroke-width="1.00" fill="none"/>
<path d="M297.03 232.10 V241.10 M294.35 232.10 H299.70 M294.35 241.10 H299.70" stroke="#2a2a2a" stroke-width="1.00" fill="none"/>
<path d="M309.64 235.80 V251.40 M306.96 235.80 H312.31 M306.96 251.40 H312.31" stroke="#2a2a2a" stroke-width="1.00" fill="none"/>
<path d="M322.25 240.60 V257.20 M319.57 240.60 H324.93 M319.57 257.20 H324.93" stroke="#2a2a2a" stroke-width="1.00" fill="none"/>
<path d="M334.86 244.80 V260.40 M332.19 244.80 H337.54 M332.19 260.40 H337.54" stroke="#2a2a2a" stroke-width="1.00" fill="none"/>
<path d="M347.47 245.10 V261.50 M344.79 245.10 H350.14 M344.79 261.50 H350.14" stroke="#2a2a2a" stroke-width="1.00" fill="none"/>
<path d="M360.08 243.20 V255.80 M357.40 243.20 H362.75 M357.40 255.80 H362.75" stroke="#2a2a2a" stroke-width="1.00" fill="none"/>
<path d="M372.69 237.80 V252.80 M370.01 237.80 H375.37 M370.01 252.80 H375.37" stroke="#2a2a2a" stroke-width="1.00" fill="none"/>
<rect x="256.63" y="220.70" width="5.14" height="4.60" fill="#000000"/>
<rect x="269.24" y="227.90" width="5.14" height="4.60" fill="#000000"/>
<rect x="281.85" y="231.30" width="5.14" height="4.60" fill="#000000"/>
<rect x="294.46" y="234.30" width="5.14" height="4.60" fill="#000000"/>
<rect x="307.07" y="241.30" width="5.14" height="4.60" fill="#000000"/>
<rect x="319.68" y="246.60" width="5.14" height="4.60" fill="#000000"/>
<rect x="332.29" y="250.30" width="5.14" height="4.60" fill="#000000"/>
<rect x="344.90" y="251.00" width="5.14" height="4.60" fill="#000000"/>
<rect x="357.51" y="247.20" width="5.14" height="4.60" fill="#000000"/>
<rect x="370.12" y="243.00" width="5.14" height="4.60" fill="#000000"/>
<path d="M284.42 231.15 V238.79 M281.74 231.15 H287.09 M281.74 238.79 H287.09" stroke="#ff3030" stroke-width="1.00" fill="none"/>
<path d="M297.03 245.73 V257.39 M294.35 245.73 H299.70 M294.35 257.39 H299.70" stroke="#ff3030" stroke-width="1.00" fill="none"/>
<path d="M309.64 268.44 V284.52 M306.96 268.44 H312.31 M306.96 284.52 H312.31" stroke="#ff3030" stroke-width="1.00" fill="none"/>
<polygon points="259.20,222.62 262.04,227.22 256.36,227.22" fill="#ff0000"/>
<polygon points="271.81,227.95 274.65,232.55 268.97,232.55" fill="#ff0000"/>
<polygon points="284.42,232.67 287.26,237.27 281.58,237.27" fill="#ff0000"/>
<polygon points="297.03,249.26 299.87,253.86 294.19,253.86" fill="#ff0000"/>
<polygon points="309.64,274.18 312.48,278.78 306.80,278.78" fill="#ff0000"/>
<polygon points="322.25,296.19 325.09,300.79 319.41,300.79" fill="#ff0000"/>
<polygon points="334.86,308.55 337.70,313.15 332.02,313.15" fill="#ff0000"/>
<polygon points="347.47,314.68 350.31,319.28 344.63,319.28" fill="#ff0000"/>
<polygon points="360.08,318.40 362.92,323.00 357.24,323.00" fill="#ff0000"/>
<polygon points="372.69,321.01 375.53,325.61 369.85,325.61" fill="#ff0000"/>
<path d="M259.20 220.30 V223.30 M256.52 220.30 H261.88 M256.52 223.30 H261.88" stroke="#ff3030" stroke-width="1.00" fill="none"/>
<path d="M271.81 224.90 V227.90 M269.13 224.90 H274.49 M269.13 227.90 H274.49" stroke="#ff3030" stroke-width="1.00" fill="none"/>
<path d="M284.42 228.30 V231.30 M281.74 228.30 H287.09 M281.74 231.30 H287.09" stroke="#ff3030" stroke-width="1.00" fill="none"/>
<path d="M297.03 228.60 V236.60 M294.35 228.60 H299.70 M294.35 236.60 H299.70" stroke="#ff3030" stroke-width="1.00" fill="none"/>
<path d="M309.64 232.50 V243.90 M306.96 232.50 H312.31 M306.96 243.90 H312.31" stroke="#ff3030" stroke-width="1.00" fill="none"/>
<path d="M322.25 236.60 V250.60 M319.57 236.60 H324.93 M319.57 250.60 H324.93" stroke="#ff3030" stroke-width="1.00" fill="none"/>
<path d="M334.86 239.00 V256.20 M332.19 239.00 H337.54 M332.19 256.20 H337.54" stroke="#ff3030" stroke-width="1.00" fill="none"/>
<path d="M347.47 241.00 V259.20 M344.79 241.00 H350.14 M344.79 259.20 H350.14" stroke="#ff3030" stroke-width="1.00" fill="none"/>
<path d="M360.08 242.60 V257.60 M357.40 242.60 H362.75 M357.40 257.60 H362.75" stroke="#ff3030" stroke-width="1.00" fill="none"/>
<path d="M372.69 242.50 V256.50 M370.01 242.50 H375.37 M370.01 256.50 H375.37" stroke="#ff3030" stroke-width="1.00" fill="none"/>
<polygon points="259.20,224.20 262.04,219.40 256.36,219.40" fill="#ff0000"/>
<polygon points="271.81,228.80 274.65,224.00 268.97,224.00" fill="#ff0000"/>
<polygon points="284.42,232.20 287.26,227.40 281.58,227.40" fill="#ff0000"/>
<polygon points="297.03,235.00 299.87,230.20 294.19,230.20" fill="#ff0000"/>
<polygon points="309.64,240.60 312.48,235.80 306.80,235.80" fill="#ff0000"/>
<polygon points="322.25,246.00 325.09,241.20 319.41,241.20" fill="#ff0000"/>
<polygon points="334.86,250.00 337.70,245.20 332.02,245.20" fill="#ff0000"/>
<polygon points="347.47,252.50 350.31,247.70 344.63,247.70" fill="#ff0000"/>
<polygon points="360.08,252.50 362.92,247.70 357.24,247.70" fill="#ff0000"/>
<polygon points="372.69,251.90 375.53,247.10 369.85,247.10" fill="#ff0000"/>
<polygon points="308.80,258.10 309.49,259.75 311.27,259.90 309.91,261.06 310.33,262.80 308.80,261.87 307.27,262.80 307.69,261.06 306.33,259.90 308.11,259.75" fill="#000000"/>
<ellipse cx="400.50" cy="242.80" rx="3.10" ry="2.40" fill="#000000"/>
<text x="408.00" y="248.50" font-size="11.70" text-anchor="start" font-weight="normal" stroke="#000" stroke-width="0.20" >Ntg</text>
<polygon points="400.20,257.10 403.40,262.10 397.00,262.10" fill="#ff0000"/>
<text x="408.50" y="263.70" font-size="11.70" text-anchor="start" font-weight="normal" stroke="#000" stroke-width="0.20" >CETP</text>
<rect x="397.3" y="269.2" width="5.2" height="4.4" fill="#000"/>
<text x="408.00" y="274.80" font-size="11.70" text-anchor="start" font-weight="normal" stroke="#000" stroke-width="0.20" >Ntg+LNAME</text>
<polygon points="399.90,288.40 403.20,282.60 396.60,282.60" fill="#ff0000"/>
<text x="408.00" y="290.10" font-size="11.70" text-anchor="start" font-weight="normal" stroke="#000" stroke-width="0.20" >CETP+LNAME</text>
</svg>
</body></html>
